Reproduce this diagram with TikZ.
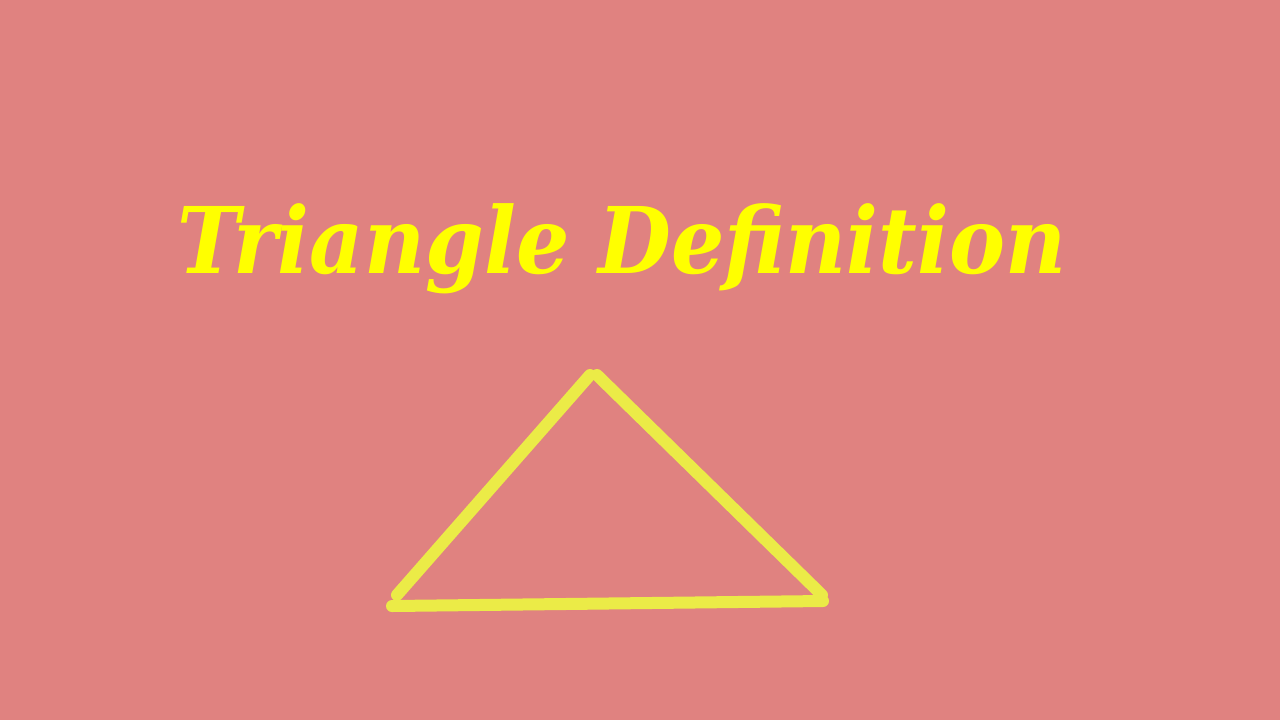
\documentclass[tikz,border=0pt]{standalone}
\usepackage{fontspec}
\setmainfont{DejaVu Serif}
\usepackage{tikz}
\definecolor{eeccbb}{rgb}{0.878,0.51,0.502}
\definecolor{ffff00}{rgb}{1.0,1.0,0.0}
\definecolor{ebeb46}{rgb}{0.92,0.92,0.28}

\begin{document}
\begin{tikzpicture}[line cap=round,line join=round,x=0.5pt,y=-0.5pt]
\fill[color=eeccbb] (0,0) rectangle (1280,720);
\useasboundingbox (0,0) rectangle (1280,720);
\node[color=ffff00,anchor=base,inner sep=0pt,font=\fontsize{46}{54}\selectfont\bfseries\itshape] (title) at (622,273) {\scalebox{0.913}[1]{Triangle Definition}};
\coordinate (lb) at (397,595);
\coordinate (tl) at (590,375);
\coordinate (tr) at (597,375);
\coordinate (rb) at (822,595);
\coordinate (bl) at (392,606);
\coordinate (br) at (823,601);
\draw [color=ebeb46,line width=6pt] (lb)-- (tl);
\draw [color=ebeb46,line width=6pt] (tr)-- (rb);
\draw [color=ebeb46,line width=6pt] (bl)-- (br);
\end{tikzpicture}
\end{document}
